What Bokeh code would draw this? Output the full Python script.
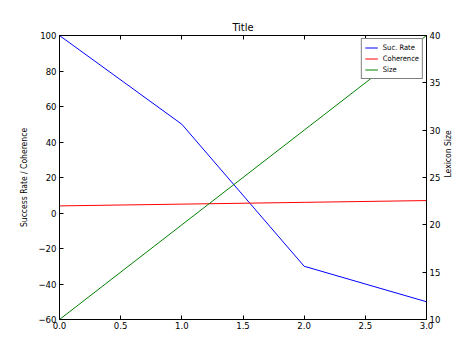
import math
from bokeh.plotting import figure
from bokeh.models import Range1d, LinearAxis, FixedTicker, CustomJSTickFormatter, Legend, LegendItem, Label
from bokeh.embed import file_html
from bokeh.resources import INLINE

x = [0, 1, 2, 3]
suc_rate = [100, 50, -30, -50]
coherence = [4, 5, 6, 7]
lex_size = [10, 20, 30, 40]

x_ticks = [0, 0.5, 1.0, 1.5, 2.0, 2.5, 3.0]
left_ticks = [-60, -40, -20, 0, 20, 40, 60, 80, 100]
right_ticks = [10, 15, 20, 25, 30, 35, 40]

FONT = "DejaVu Sans Condensed, DejaVu Sans"
X0, X1, Y0, Y1 = 0, 3, -60, 100

p = figure(width=474, height=355, output_backend="svg", toolbar_location=None,
           x_range=Range1d(X0, X1), y_range=Range1d(Y0, Y1),
           min_border_left=59, min_border_right=48, min_border_top=35, min_border_bottom=36)
p.extra_y_ranges = {"size": Range1d(10, 40)}

p.title.text = "Title"
p.title.align = "center"
p.title.text_font = FONT
p.title.text_font_style = "normal"
p.title.text_font_size = "11px"
p.title.text_color = "black"
p.title.standoff = 3

p.xgrid.visible = False
p.ygrid.visible = False
p.outline_line_color = "black"
p.outline_line_width = 1

def fmt(dec):
    return CustomJSTickFormatter(code="var s = Math.abs(tick).toFixed(%d); return (tick < 0 ? '\u2212' : '') + s;" % dec)

def style(ax, ticks, dec):
    ax.ticker = FixedTicker(ticks=ticks)
    ax.formatter = fmt(dec)
    ax.major_tick_in = 4
    ax.major_tick_out = 0
    ax.minor_tick_line_color = None
    ax.axis_line_color = "black"
    ax.major_tick_line_color = "black"
    ax.major_label_text_font = FONT
    ax.major_label_text_font_size = "9.5px"
    ax.major_label_text_color = "black"
    ax.major_label_standoff = 3
    ax.axis_label_text_font = FONT
    ax.axis_label_text_font_size = "8.5px"
    ax.axis_label_text_font_style = "normal"
    ax.axis_label_text_color = "black"
    ax.axis_label_standoff = 6

style(p.xaxis[0], x_ticks, 1)
p.xaxis[0].major_label_standoff = 2
style(p.yaxis[0], left_ticks, 0)
p.yaxis[0].axis_label = "Success Rate / Coherence"

top = LinearAxis()
style(top, x_ticks, 1)
top.formatter = CustomJSTickFormatter(code="return '';")
top.major_label_standoff = 0
p.add_layout(top, "above")

right = LinearAxis(y_range_name="size")
style(right, right_ticks, 0)
right.axis_label_standoff = 5
if "axis_label_orientation" in right.properties():
    right.axis_label = "Lexicon Size"
    right.axis_label_orientation = math.pi / 2
else:
    p.add_layout(Label(x=389, y=142, x_units="screen", y_units="screen", text="Lexicon Size",
                       angle=math.pi / 2, text_align="center", text_baseline="middle",
                       text_font=FONT, text_font_size="8.5px", text_color="black"))
p.add_layout(right, "right")

r1 = p.line(x, suc_rate, line_color="#0000ff", line_width=1)
r2 = p.line(x, coherence, line_color="#ff0000", line_width=1)
r3 = p.line(x, lex_size, line_color="#008000", line_width=1, y_range_name="size")

legend = Legend(items=[LegendItem(label="Suc. Rate", renderers=[r1]),
                       LegendItem(label="Coherence", renderers=[r2]),
                       LegendItem(label="Size", renderers=[r3])],
                location="top_right")
legend.label_text_font = FONT
legend.label_text_font_size = "7.5px"
legend.label_text_color = "black"
legend.border_line_color = "black"
legend.border_line_width = 1
legend.glyph_width = 13
legend.glyph_height = 11
legend.label_height = 11
legend.spacing = 0
legend.padding = 3
legend.margin = 3
legend.label_standoff = 5
legend.background_fill_alpha = 1
p.add_layout(legend)

open("out.html", "w").write(file_html(p, INLINE))
